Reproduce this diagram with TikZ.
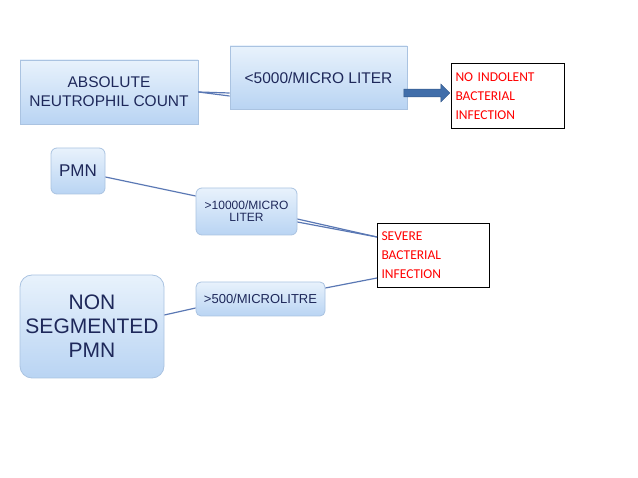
\documentclass[tikz,border=0pt]{standalone}
\usepackage{fontspec}
\setmainfont{Liberation Sans}
\newfontfamily\carlitofont{Carlito}
\usetikzlibrary{shapes.arrows}
\definecolor{navy}{RGB}{30,40,90}
\definecolor{edge}{RGB}{90,120,180}
\definecolor{ltop}{RGB}{232,242,252}
\definecolor{lbot}{RGB}{185,212,243}
\definecolor{lbd}{RGB}{170,195,225}
\definecolor{arr}{RGB}{65,110,170}
\begin{document}
\begin{tikzpicture}[x=1pt,y=-1pt,
 bx/.style={draw=lbd,line width=0.8pt,top color=ltop,bottom color=lbot,text=navy,align=center,inner sep=0pt},
 rb/.style={draw=black,line width=1pt,fill=white,text=red,font=\carlitofont\fontsize{13.5}{19}\selectfont,align=left,anchor=north west,inner sep=4pt},
 ln/.style={draw=edge,line width=1.2pt}]
\useasboundingbox (0,0) rectangle (638,478);
\node[bx,minimum width=178,minimum height=64,font=\fontsize{15.5}{19}\selectfont] (anc) at (109,92) {ABSOLUTE\\NEUTROPHIL COUNT};
\node[bx,minimum width=177,minimum height=63,font=\fontsize{15.5}{17}\selectfont] (lt) at (318.5,77.5) {{<}5000/MICRO LITER};
\node[rb,minimum width=113,minimum height=65,text width=105] (no) at (451,63) {NO INDOLENT\\BACTERIAL\\INFECTION};
\node[single arrow,draw=arr!80!black,fill=arr,minimum height=46,minimum width=18,single arrow head extend=3pt,inner sep=2pt] (ar) at (425,93) {};
\node[bx,rounded corners=6,minimum width=54,minimum height=46,font=\fontsize{17}{18}\selectfont] (pmn) at (78,171) {PMN};
\node[bx,rounded corners=6,minimum width=101,minimum height=47,font=\fontsize{12}{12}\selectfont] (g1) at (246.5,211.5) {{>}10000/MICRO\\LITER};
\node[rb,minimum width=112,minimum height=64,text width=104] (sev) at (377,223) {SEVERE\\BACTERIAL\\INFECTION};
\node[bx,rounded corners=12,minimum width=144,minimum height=103,font=\fontsize{21}{24}\selectfont] (ns) at (92,326.5) {NON\\SEGMENTED\\PMN};
\node[bx,rounded corners=5,minimum width=129,minimum height=34,font=\fontsize{13}{14}\selectfont] (g2) at (260.5,299) {{>}500/MICROLITRE};
\draw[ln] (anc.east) -- (lt.west|-0,96);
\draw[ln] (anc.east) -- (lt.west|-0,93);
\draw[ln] (pmn.east|-0,177) -- (g1.west|-0,196);
\draw[ln] (g1.east|-0,219) -- (sev.west|-0,237);
\draw[ln] (g1.east|-0,222) -- (sev.west|-0,237);
\draw[ln] (ns.east|-0,315) -- (g2.west|-0,308);
\draw[ln] (g2.east|-0,288) -- (sev.west|-0,278);
\end{tikzpicture}
\end{document}
